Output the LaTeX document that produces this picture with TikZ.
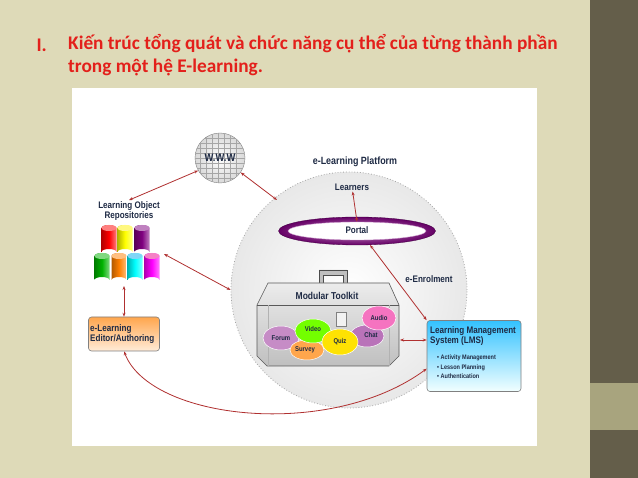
\documentclass[tikz,border=0pt]{standalone}
\usepackage{fontspec}
\setmainfont{Carlito}
\newfontfamily\dfont[FakeStretch=0.85]{Liberation Sans}
\usetikzlibrary{arrows.meta,shadings,shapes.geometric}
\definecolor{bgc}{HTML}{DEDAB8}
\definecolor{barc}{HTML}{645E4A}
\definecolor{sqc}{HTML}{A8A47E}
\definecolor{titc}{HTML}{E3201B}
\definecolor{txc}{HTML}{1E2A44}
\definecolor{arc}{HTML}{B03030}
\tikzset{
 lbl/.style={font=\dfont\bfseries\fontsize{9.5}{10.5}\selectfont, text=txc, align=center, inner sep=1pt},
 arr/.style={{Stealth[length=4pt,width=3pt]}-{Stealth[length=4pt,width=3pt]}, arc, line width=0.8pt},
 bub/.style={draw=white, line width=0.5pt, ellipse, inner sep=0pt},
 blbl/.style={lbl, font=\dfont\bfseries\fontsize{7}{7}\selectfont}
}
\newcommand{\mycyl}[3]{%
 \shade[left color=#3!70!black, right color=#3!50, middle color=#3] (#1-7.5,#2-12) -- (#1-7.5,#2+12) arc[start angle=180,end angle=360,x radius=7.5pt,y radius=-3pt] -- (#1+7.5,#2-12) arc[start angle=0,end angle=180,x radius=7.5pt,y radius=3pt] -- cycle;
 \fill[#3!50!white] (#1,#2-12) ellipse[x radius=7.5pt,y radius=3pt];}
\begin{document}
\begin{tikzpicture}[x=1pt,y=-1pt]
\useasboundingbox (0,0) rectangle (638,478);
\fill[bgc] (0,0) rectangle (590,478);
\fill[barc] (590,0) rectangle (638,478);
\fill[sqc] (590,383) rectangle (638,430);
\node[anchor=west, text=titc, font=\bfseries\fontsize{19.3}{23}\selectfont] (ti) at (33,45) {I.};
\node[anchor=north west, text=titc, font=\bfseries\fontsize{19.3}{23}\selectfont, align=left, inner sep=0pt] (tt) at (68,34) {Kiến trúc tổng quát và chức năng cụ thể của từng thành phần\\trong một hệ E-learning.};
\fill[white] (72,88) rectangle (537,446);
% platform circle
\node[circle, minimum size=236pt, inner sep=0pt, draw=gray!70, dotted, line width=0.8pt, inner color=white, outer color=gray!18] (plat) at (349,290) {};
\node[lbl, font=\dfont\bfseries\fontsize{10.5}{11}\selectfont] (platl) at (355,162) {e-Learning Platform};
% globe
\begin{scope}
\node[circle, minimum size=50pt, inner sep=0pt, draw=gray, inner color=white, outer color=gray!30] (www) at (220,158) {};
\clip (220,158) circle[radius=25pt];
\foreach \i in {-20,-15,...,20} {\draw[gray!70, line width=0.4pt] (195,158+\i) -- (245,158+\i);}
\foreach \i in {-20,-14,...,20} {\draw[gray!70, line width=0.4pt] (220+\i,133) -- (220+\i,183);}
\end{scope}
\node[lbl, font=\dfont\bfseries\fontsize{11}{12}\selectfont] (wwwl) at (220,158) {W.W.W};
% learners and portal
\node[lbl] (learn) at (352,187) {Learners};
\node[ellipse, minimum width=157pt, minimum height=28pt, inner sep=0pt, inner color=violet!40, outer color=violet!80!black, draw=violet!50!black, line width=0.3pt] (portalo) at (357,231) {};
\node[ellipse, minimum width=138pt, minimum height=18pt, inner sep=0pt, fill=white, draw=violet!40] (portal) at (357,231) {};
\node[lbl] (portall) at (357,230) {Portal};
% repositories
\node[lbl] (lorl) at (129,211) {Learning Object\\Repositories};
\mycyl{109}{240}{red}
\mycyl{125}{240}{yellow}
\mycyl{142}{240}{violet}
\mycyl{102}{268}{green!70!black}
\mycyl{119}{268}{orange}
\mycyl{135}{268}{cyan}
\mycyl{152}{268}{magenta}
\coordinate (lorr) at (164,254);
\coordinate (lorb) at (124,286);
% editor
\node[draw=gray, rounded corners=3pt, minimum width=71pt, minimum height=34pt, top color=orange!70, bottom color=orange!15, line width=0.6pt] (ed) at (124,334) {};
\node[lbl, anchor=west, align=left] (edl) at (89,334) {e-Learning\\Editor/Authoring};
% LMS
\node[draw=gray, rounded corners=3pt, minimum width=94pt, minimum height=71pt, top color=cyan!70!blue!80, bottom color=cyan!5, line width=0.6pt] (lms) at (474,356) {};
\node[lbl, anchor=north west, align=left] (lmsl) at (429,325) {Learning Management\\System (LMS)};
\node[lbl, anchor=north west, align=left, font=\dfont\bfseries\fontsize{6.5}{9.5}\selectfont] (lmsi) at (436,354) {• Activity Management\\• Lesson Planning\\• Authentication};
% toolbox
\draw[gray!60!black, fill=gray!50, line width=0.6pt] (319,285) -- (319,270) -- (347,270) -- (347,285) -- (343,285) -- (343,275) -- (323,275) -- (323,285) -- cycle;
\draw[gray!70!black, line width=0.6pt, top color=gray!15, bottom color=gray!50] (257,305) -- (268,283) -- (389,283) -- (399,305) -- (399,356) -- (389,366) -- (267,366) -- (257,356) -- cycle;
\draw[gray!70!black, line width=0.4pt] (257,305) -- (399,305);
\draw[gray!60, line width=0.4pt] (268,366) -- (268,305) (389,366) -- (389,305);
\node[lbl, font=\dfont\bfseries\fontsize{10}{10}\selectfont] (tkl) at (327,296) {Modular Toolkit};
\draw[gray, fill=gray!10] (336,312) rectangle (346,326);
\node[bub, minimum width=36pt, minimum height=24pt, fill=violet!45!white] (forum) at (281,338) {};
\node[bub, minimum width=34pt, minimum height=20pt, fill=orange!70] (survey) at (307,350) {};
\node[bub, minimum width=36pt, minimum height=24pt, fill=green!55!yellow] (video) at (313,331) {};
\node[bub, minimum width=34pt, minimum height=22pt, fill=violet!55] (chat) at (367,336) {};
\node[bub, minimum width=36pt, minimum height=26pt, fill=yellow!85!orange] (quiz) at (340,342) {};
\node[bub, minimum width=34pt, minimum height=24pt, fill=magenta!55] (audio) at (379,318) {};
\node[blbl] at (forum) {Forum};
\node[blbl] at (305,350) {Survey};
\node[blbl] at (313,329) {Video};
\node[blbl] at (371,335) {Chat};
\node[blbl] at (quiz) {Quiz};
\node[blbl] at (audio) {Audio};
\node[lbl] (enr) at (429,279) {e-Enrolment};
% connectors
\draw[arr] (www.-150) -- (lorl.north);
\draw[arr] (www.-35) -- (277,200);
\draw[arr] (learn) -- (portal.north);
\draw[arr] (lorr) -- (plat.west);
\draw[arr] (370,245) -- (lms.north west);
\draw[arr] (400,340) -- (lms.west |- 0,340);
\draw[arr] (lorb) -- (ed.north);
\draw[arr] (ed.south) .. controls (150,420) and (330,440) .. (lms.-165);
\end{tikzpicture}
\end{document}
